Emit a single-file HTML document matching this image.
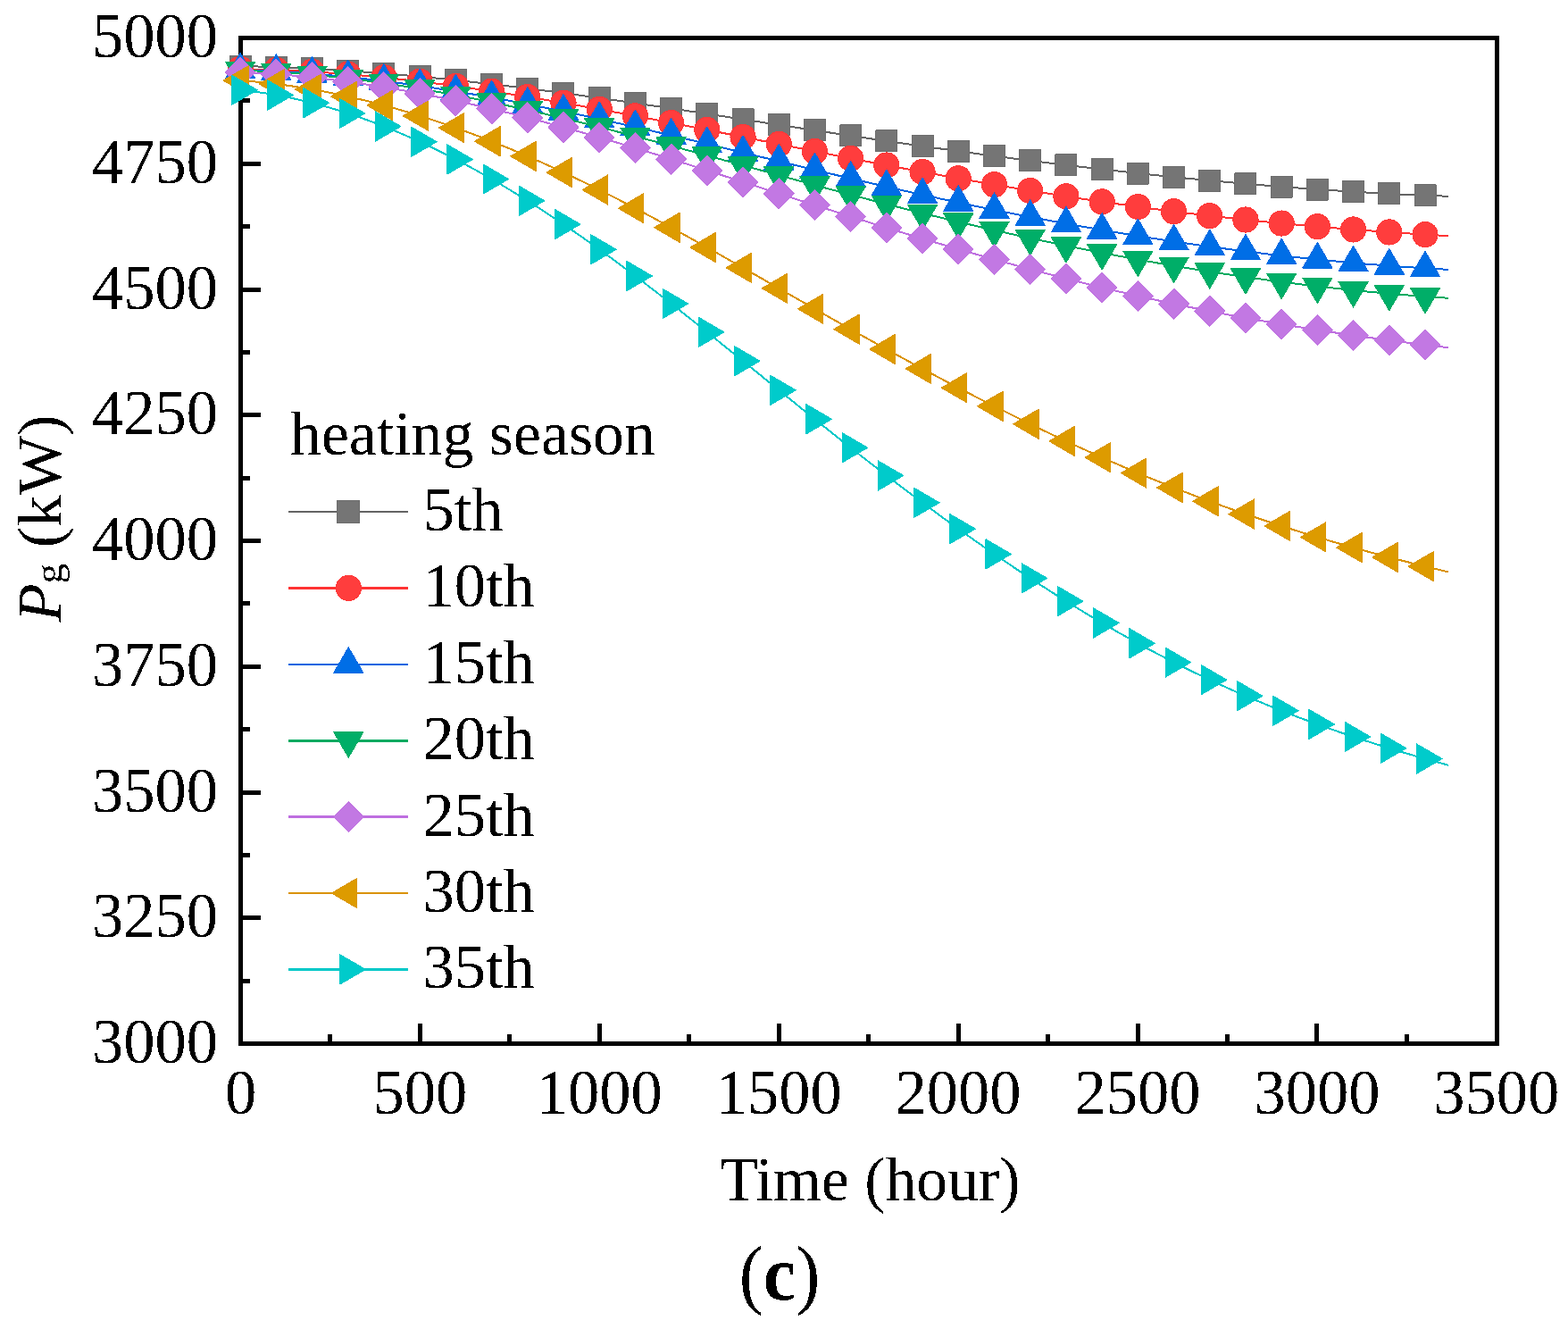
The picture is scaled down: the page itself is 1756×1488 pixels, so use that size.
<!DOCTYPE html>
<html><head><meta charset="utf-8"><title>P_g vs Time</title>
<style>html,body{margin:0;padding:0;background:#fff;overflow:hidden}svg{display:block}</style>
</head><body>
<svg width="1756" height="1488" viewBox="0 0 1756 1488" font-family="Liberation Serif, Times New Roman, serif" fill="#000">
<defs><filter id="bw" filterUnits="userSpaceOnUse" x="0" y="0" width="1756" height="1488" color-interpolation-filters="sRGB"><feComponentTransfer><feFuncA type="discrete" tableValues="0 1"/></feComponentTransfer></filter></defs>
<rect width="1756" height="1488" fill="#fff"/>
<g shape-rendering="crispEdges"><rect x="269.50" y="42.50" width="1406.60" height="1126.00" fill="none" stroke="#000" stroke-width="5"/><line x1="369.95" y1="1168.50" x2="369.95" y2="1158.00" stroke="#000" stroke-width="5"/><line x1="470.40" y1="1168.50" x2="470.40" y2="1146.20" stroke="#000" stroke-width="5"/><line x1="570.85" y1="1168.50" x2="570.85" y2="1158.00" stroke="#000" stroke-width="5"/><line x1="671.30" y1="1168.50" x2="671.30" y2="1146.20" stroke="#000" stroke-width="5"/><line x1="771.75" y1="1168.50" x2="771.75" y2="1158.00" stroke="#000" stroke-width="5"/><line x1="872.20" y1="1168.50" x2="872.20" y2="1146.20" stroke="#000" stroke-width="5"/><line x1="972.65" y1="1168.50" x2="972.65" y2="1158.00" stroke="#000" stroke-width="5"/><line x1="1073.10" y1="1168.50" x2="1073.10" y2="1146.20" stroke="#000" stroke-width="5"/><line x1="1173.55" y1="1168.50" x2="1173.55" y2="1158.00" stroke="#000" stroke-width="5"/><line x1="1274.00" y1="1168.50" x2="1274.00" y2="1146.20" stroke="#000" stroke-width="5"/><line x1="1374.45" y1="1168.50" x2="1374.45" y2="1158.00" stroke="#000" stroke-width="5"/><line x1="1474.90" y1="1168.50" x2="1474.90" y2="1146.20" stroke="#000" stroke-width="5"/><line x1="1575.35" y1="1168.50" x2="1575.35" y2="1158.00" stroke="#000" stroke-width="5"/><line x1="269.50" y1="1098.12" x2="280.00" y2="1098.12" stroke="#000" stroke-width="5"/><line x1="269.50" y1="1027.75" x2="291.80" y2="1027.75" stroke="#000" stroke-width="5"/><line x1="269.50" y1="957.37" x2="280.00" y2="957.37" stroke="#000" stroke-width="5"/><line x1="269.50" y1="887.00" x2="291.80" y2="887.00" stroke="#000" stroke-width="5"/><line x1="269.50" y1="816.62" x2="280.00" y2="816.62" stroke="#000" stroke-width="5"/><line x1="269.50" y1="746.25" x2="291.80" y2="746.25" stroke="#000" stroke-width="5"/><line x1="269.50" y1="675.87" x2="280.00" y2="675.87" stroke="#000" stroke-width="5"/><line x1="269.50" y1="605.50" x2="291.80" y2="605.50" stroke="#000" stroke-width="5"/><line x1="269.50" y1="535.12" x2="280.00" y2="535.12" stroke="#000" stroke-width="5"/><line x1="269.50" y1="464.75" x2="291.80" y2="464.75" stroke="#000" stroke-width="5"/><line x1="269.50" y1="394.37" x2="280.00" y2="394.37" stroke="#000" stroke-width="5"/><line x1="269.50" y1="324.00" x2="291.80" y2="324.00" stroke="#000" stroke-width="5"/><line x1="269.50" y1="253.62" x2="280.00" y2="253.62" stroke="#000" stroke-width="5"/><line x1="269.50" y1="183.25" x2="291.80" y2="183.25" stroke="#000" stroke-width="5"/><line x1="269.50" y1="112.88" x2="280.00" y2="112.88" stroke="#000" stroke-width="5"/></g>
<g shape-rendering="crispEdges"><polyline points="269.10,74.07 277.10,74.23 285.11,74.42 293.11,74.64 301.12,74.88 309.12,75.15 317.12,75.45 325.13,75.78 333.13,76.13 341.14,76.51 349.14,76.91 357.14,77.33 365.15,77.78 373.15,78.26 381.16,78.76 389.16,79.28 397.16,79.82 405.17,80.39 413.17,80.98 421.17,81.59 429.18,82.23 437.18,82.88 445.19,83.56 453.19,84.25 461.19,84.97 469.20,85.71 477.20,86.46 485.21,87.24 493.21,88.03 501.21,88.84 509.22,89.67 517.22,90.52 525.23,91.38 533.23,92.26 541.23,93.16 549.24,94.07 557.24,95.00 565.25,95.95 573.25,96.91 581.25,97.88 589.26,98.87 597.26,99.87 605.27,100.89 613.27,101.92 621.27,102.96 629.28,104.02 637.28,105.08 645.28,106.16 653.29,107.25 661.29,108.36 669.30,109.47 677.30,110.59 685.30,111.72 693.31,112.86 701.31,114.01 709.32,115.17 717.32,116.33 725.32,117.50 733.33,118.68 741.33,119.87 749.34,121.06 757.34,122.25 765.34,123.46 773.35,124.66 781.35,125.87 789.36,127.09 797.36,128.31 805.36,129.53 813.37,130.75 821.37,131.98 829.38,133.20 837.38,134.43 845.38,135.66 853.39,136.89 861.39,138.12 869.39,139.35 877.40,140.58 885.40,141.80 893.41,143.03 901.41,144.25 909.41,145.47 917.42,146.68 925.42,147.89 933.43,149.10 941.43,150.30 949.43,151.50 957.44,152.69 965.44,153.88 973.45,155.06 981.45,156.24 989.45,157.40 997.46,158.57 1005.46,159.72 1013.47,160.87 1021.47,162.02 1029.47,163.15 1037.48,164.28 1045.48,165.40 1053.49,166.52 1061.49,167.63 1069.49,168.73 1077.50,169.82 1085.50,170.91 1093.50,171.99 1101.51,173.06 1109.51,174.12 1117.52,175.17 1125.52,176.22 1133.52,177.26 1141.53,178.28 1149.53,179.30 1157.54,180.32 1165.54,181.32 1173.54,182.31 1181.55,183.30 1189.55,184.27 1197.56,185.24 1205.56,186.20 1213.56,187.14 1221.57,188.08 1229.57,189.01 1237.58,189.92 1245.58,190.83 1253.58,191.73 1261.59,192.61 1269.59,193.49 1277.60,194.36 1285.60,195.21 1293.60,196.06 1301.61,196.89 1309.61,197.71 1317.62,198.52 1325.62,199.32 1333.62,200.11 1341.63,200.88 1349.63,201.65 1357.63,202.40 1365.64,203.14 1373.64,203.87 1381.65,204.59 1389.65,205.29 1397.65,205.98 1405.66,206.66 1413.66,207.33 1421.67,207.98 1429.67,208.62 1437.67,209.25 1445.68,209.86 1453.68,210.46 1461.69,211.05 1469.69,211.62 1477.69,212.18 1485.70,212.72 1493.70,213.26 1501.71,213.77 1509.71,214.28 1517.71,214.77 1525.72,215.24 1533.72,215.70 1541.73,216.15 1549.73,216.58 1557.73,216.99 1565.74,217.39 1573.74,217.78 1581.74,218.15 1589.75,218.50 1597.75,218.84 1605.76,219.16 1613.76,219.47 1621.76,219.76" fill="none" stroke="#646464" stroke-width="2.0" stroke-linejoin="round"/><rect x="257.10" y="62.07" width="24.00" height="24.00" fill="#757575" stroke="#6C6C6C" stroke-width="1" stroke-linejoin="round"/><rect x="297.31" y="63.16" width="24.00" height="24.00" fill="#757575" stroke="#6C6C6C" stroke-width="1" stroke-linejoin="round"/><rect x="337.52" y="64.93" width="24.00" height="24.00" fill="#757575" stroke="#6C6C6C" stroke-width="1" stroke-linejoin="round"/><rect x="377.73" y="67.32" width="24.00" height="24.00" fill="#757575" stroke="#6C6C6C" stroke-width="1" stroke-linejoin="round"/><rect x="417.94" y="70.29" width="24.00" height="24.00" fill="#757575" stroke="#6C6C6C" stroke-width="1" stroke-linejoin="round"/><rect x="458.15" y="73.80" width="24.00" height="24.00" fill="#757575" stroke="#6C6C6C" stroke-width="1" stroke-linejoin="round"/><rect x="498.36" y="77.79" width="24.00" height="24.00" fill="#757575" stroke="#6C6C6C" stroke-width="1" stroke-linejoin="round"/><rect x="538.57" y="82.23" width="24.00" height="24.00" fill="#757575" stroke="#6C6C6C" stroke-width="1" stroke-linejoin="round"/><rect x="578.78" y="87.06" width="24.00" height="24.00" fill="#757575" stroke="#6C6C6C" stroke-width="1" stroke-linejoin="round"/><rect x="618.99" y="92.24" width="24.00" height="24.00" fill="#757575" stroke="#6C6C6C" stroke-width="1" stroke-linejoin="round"/><rect x="659.20" y="97.73" width="24.00" height="24.00" fill="#757575" stroke="#6C6C6C" stroke-width="1" stroke-linejoin="round"/><rect x="699.41" y="103.47" width="24.00" height="24.00" fill="#757575" stroke="#6C6C6C" stroke-width="1" stroke-linejoin="round"/><rect x="739.62" y="109.40" width="24.00" height="24.00" fill="#757575" stroke="#6C6C6C" stroke-width="1" stroke-linejoin="round"/><rect x="779.83" y="115.47" width="24.00" height="24.00" fill="#757575" stroke="#6C6C6C" stroke-width="1" stroke-linejoin="round"/><rect x="820.04" y="121.61" width="24.00" height="24.00" fill="#757575" stroke="#6C6C6C" stroke-width="1" stroke-linejoin="round"/><rect x="860.25" y="127.79" width="24.00" height="24.00" fill="#757575" stroke="#6C6C6C" stroke-width="1" stroke-linejoin="round"/><rect x="900.46" y="133.93" width="24.00" height="24.00" fill="#757575" stroke="#6C6C6C" stroke-width="1" stroke-linejoin="round"/><rect x="940.67" y="139.98" width="24.00" height="24.00" fill="#757575" stroke="#6C6C6C" stroke-width="1" stroke-linejoin="round"/><rect x="980.88" y="145.90" width="24.00" height="24.00" fill="#757575" stroke="#6C6C6C" stroke-width="1" stroke-linejoin="round"/><rect x="1021.09" y="151.66" width="24.00" height="24.00" fill="#757575" stroke="#6C6C6C" stroke-width="1" stroke-linejoin="round"/><rect x="1061.30" y="157.25" width="24.00" height="24.00" fill="#757575" stroke="#6C6C6C" stroke-width="1" stroke-linejoin="round"/><rect x="1101.51" y="162.65" width="24.00" height="24.00" fill="#757575" stroke="#6C6C6C" stroke-width="1" stroke-linejoin="round"/><rect x="1141.72" y="167.83" width="24.00" height="24.00" fill="#757575" stroke="#6C6C6C" stroke-width="1" stroke-linejoin="round"/><rect x="1181.93" y="172.80" width="24.00" height="24.00" fill="#757575" stroke="#6C6C6C" stroke-width="1" stroke-linejoin="round"/><rect x="1222.14" y="177.53" width="24.00" height="24.00" fill="#757575" stroke="#6C6C6C" stroke-width="1" stroke-linejoin="round"/><rect x="1262.35" y="182.01" width="24.00" height="24.00" fill="#757575" stroke="#6C6C6C" stroke-width="1" stroke-linejoin="round"/><rect x="1302.56" y="186.21" width="24.00" height="24.00" fill="#757575" stroke="#6C6C6C" stroke-width="1" stroke-linejoin="round"/><rect x="1342.77" y="190.13" width="24.00" height="24.00" fill="#757575" stroke="#6C6C6C" stroke-width="1" stroke-linejoin="round"/><rect x="1382.98" y="193.75" width="24.00" height="24.00" fill="#757575" stroke="#6C6C6C" stroke-width="1" stroke-linejoin="round"/><rect x="1423.19" y="197.05" width="24.00" height="24.00" fill="#757575" stroke="#6C6C6C" stroke-width="1" stroke-linejoin="round"/><rect x="1463.40" y="200.02" width="24.00" height="24.00" fill="#757575" stroke="#6C6C6C" stroke-width="1" stroke-linejoin="round"/><rect x="1503.61" y="202.64" width="24.00" height="24.00" fill="#757575" stroke="#6C6C6C" stroke-width="1" stroke-linejoin="round"/><rect x="1543.82" y="204.89" width="24.00" height="24.00" fill="#757575" stroke="#6C6C6C" stroke-width="1" stroke-linejoin="round"/><rect x="1584.03" y="206.77" width="24.00" height="24.00" fill="#757575" stroke="#6C6C6C" stroke-width="1" stroke-linejoin="round"/><polyline points="269.10,77.27 277.10,77.39 285.11,77.55 293.11,77.76 301.12,78.00 309.12,78.28 317.12,78.60 325.13,78.96 333.13,79.35 341.14,79.79 349.14,80.25 357.14,80.76 365.15,81.29 373.15,81.87 381.16,82.47 389.16,83.11 397.16,83.78 405.17,84.49 413.17,85.22 421.17,85.99 429.18,86.79 437.18,87.61 445.19,88.47 453.19,89.35 461.19,90.27 469.20,91.21 477.20,92.17 485.21,93.17 493.21,94.19 501.21,95.23 509.22,96.30 517.22,97.39 525.23,98.51 533.23,99.65 541.23,100.81 549.24,102.00 557.24,103.20 565.25,104.43 573.25,105.68 581.25,106.94 589.26,108.23 597.26,109.53 605.27,110.86 613.27,112.20 621.27,113.55 629.28,114.92 637.28,116.31 645.28,117.72 653.29,119.13 661.29,120.57 669.30,122.01 677.30,123.47 685.30,124.94 693.31,126.42 701.31,127.92 709.32,129.42 717.32,130.93 725.32,132.46 733.33,133.99 741.33,135.53 749.34,137.08 757.34,138.63 765.34,140.20 773.35,141.76 781.35,143.34 789.36,144.92 797.36,146.50 805.36,148.09 813.37,149.68 821.37,151.27 829.38,152.87 837.38,154.46 845.38,156.06 853.39,157.66 861.39,159.26 869.39,160.85 877.40,162.45 885.40,164.04 893.41,165.64 901.41,167.23 909.41,168.81 917.42,170.39 925.42,171.97 933.43,173.54 941.43,175.11 949.43,176.67 957.44,178.22 965.44,179.76 973.45,181.30 981.45,182.83 989.45,184.35 997.46,185.87 1005.46,187.37 1013.47,188.87 1021.47,190.36 1029.47,191.83 1037.48,193.30 1045.48,194.76 1053.49,196.21 1061.49,197.65 1069.49,199.09 1077.50,200.50 1085.50,201.91 1093.50,203.31 1101.51,204.70 1109.51,206.08 1117.52,207.44 1125.52,208.79 1133.52,210.13 1141.53,211.46 1149.53,212.78 1157.54,214.08 1165.54,215.37 1173.54,216.65 1181.55,217.92 1189.55,219.17 1197.56,220.41 1205.56,221.63 1213.56,222.84 1221.57,224.03 1229.57,225.21 1237.58,226.38 1245.58,227.53 1253.58,228.66 1261.59,229.78 1269.59,230.89 1277.60,231.98 1285.60,233.05 1293.60,234.10 1301.61,235.14 1309.61,236.16 1317.62,237.17 1325.62,238.16 1333.62,239.13 1341.63,240.08 1349.63,241.02 1357.63,241.94 1365.64,242.85 1373.64,243.73 1381.65,244.61 1389.65,245.46 1397.65,246.30 1405.66,247.13 1413.66,247.94 1421.67,248.73 1429.67,249.51 1437.67,250.28 1445.68,251.03 1453.68,251.77 1461.69,252.49 1469.69,253.20 1477.69,253.89 1485.70,254.57 1493.70,255.23 1501.71,255.89 1509.71,256.52 1517.71,257.15 1525.72,257.76 1533.72,258.36 1541.73,258.95 1549.73,259.52 1557.73,260.09 1565.74,260.63 1573.74,261.17 1581.74,261.70 1589.75,262.21 1597.75,262.71 1605.76,263.20 1613.76,263.68 1621.76,264.15" fill="none" stroke="#FF3333" stroke-width="2.0" stroke-linejoin="round"/><circle cx="269.10" cy="77.27" r="14.10" fill="#FF3D3D" stroke="#FF3838" stroke-width="1" stroke-linejoin="round"/><circle cx="309.31" cy="78.29" r="14.10" fill="#FF3D3D" stroke="#FF3838" stroke-width="1" stroke-linejoin="round"/><circle cx="349.52" cy="80.28" r="14.10" fill="#FF3D3D" stroke="#FF3838" stroke-width="1" stroke-linejoin="round"/><circle cx="389.73" cy="83.16" r="14.10" fill="#FF3D3D" stroke="#FF3838" stroke-width="1" stroke-linejoin="round"/><circle cx="429.94" cy="86.86" r="14.10" fill="#FF3D3D" stroke="#FF3838" stroke-width="1" stroke-linejoin="round"/><circle cx="470.15" cy="91.32" r="14.10" fill="#FF3D3D" stroke="#FF3838" stroke-width="1" stroke-linejoin="round"/><circle cx="510.36" cy="96.45" r="14.10" fill="#FF3D3D" stroke="#FF3838" stroke-width="1" stroke-linejoin="round"/><circle cx="550.57" cy="102.20" r="14.10" fill="#FF3D3D" stroke="#FF3838" stroke-width="1" stroke-linejoin="round"/><circle cx="590.78" cy="108.48" r="14.10" fill="#FF3D3D" stroke="#FF3838" stroke-width="1" stroke-linejoin="round"/><circle cx="630.99" cy="115.22" r="14.10" fill="#FF3D3D" stroke="#FF3838" stroke-width="1" stroke-linejoin="round"/><circle cx="671.20" cy="122.36" r="14.10" fill="#FF3D3D" stroke="#FF3838" stroke-width="1" stroke-linejoin="round"/><circle cx="711.41" cy="129.81" r="14.10" fill="#FF3D3D" stroke="#FF3838" stroke-width="1" stroke-linejoin="round"/><circle cx="751.62" cy="137.52" r="14.10" fill="#FF3D3D" stroke="#FF3838" stroke-width="1" stroke-linejoin="round"/><circle cx="791.83" cy="145.41" r="14.10" fill="#FF3D3D" stroke="#FF3838" stroke-width="1" stroke-linejoin="round"/><circle cx="832.04" cy="153.40" r="14.10" fill="#FF3D3D" stroke="#FF3838" stroke-width="1" stroke-linejoin="round"/><circle cx="872.25" cy="161.42" r="14.10" fill="#FF3D3D" stroke="#FF3838" stroke-width="1" stroke-linejoin="round"/><circle cx="912.46" cy="169.41" r="14.10" fill="#FF3D3D" stroke="#FF3838" stroke-width="1" stroke-linejoin="round"/><circle cx="952.67" cy="177.29" r="14.10" fill="#FF3D3D" stroke="#FF3838" stroke-width="1" stroke-linejoin="round"/><circle cx="992.88" cy="185.00" r="14.10" fill="#FF3D3D" stroke="#FF3838" stroke-width="1" stroke-linejoin="round"/><circle cx="1033.09" cy="192.50" r="14.10" fill="#FF3D3D" stroke="#FF3838" stroke-width="1" stroke-linejoin="round"/><circle cx="1073.30" cy="199.76" r="14.10" fill="#FF3D3D" stroke="#FF3838" stroke-width="1" stroke-linejoin="round"/><circle cx="1113.51" cy="206.76" r="14.10" fill="#FF3D3D" stroke="#FF3838" stroke-width="1" stroke-linejoin="round"/><circle cx="1153.72" cy="213.46" r="14.10" fill="#FF3D3D" stroke="#FF3838" stroke-width="1" stroke-linejoin="round"/><circle cx="1193.93" cy="219.85" r="14.10" fill="#FF3D3D" stroke="#FF3838" stroke-width="1" stroke-linejoin="round"/><circle cx="1234.14" cy="225.88" r="14.10" fill="#FF3D3D" stroke="#FF3838" stroke-width="1" stroke-linejoin="round"/><circle cx="1274.35" cy="231.54" r="14.10" fill="#FF3D3D" stroke="#FF3838" stroke-width="1" stroke-linejoin="round"/><circle cx="1314.56" cy="236.79" r="14.10" fill="#FF3D3D" stroke="#FF3838" stroke-width="1" stroke-linejoin="round"/><circle cx="1354.77" cy="241.61" r="14.10" fill="#FF3D3D" stroke="#FF3838" stroke-width="1" stroke-linejoin="round"/><circle cx="1394.98" cy="246.02" r="14.10" fill="#FF3D3D" stroke="#FF3838" stroke-width="1" stroke-linejoin="round"/><circle cx="1435.19" cy="250.04" r="14.10" fill="#FF3D3D" stroke="#FF3838" stroke-width="1" stroke-linejoin="round"/><circle cx="1475.40" cy="253.69" r="14.10" fill="#FF3D3D" stroke="#FF3838" stroke-width="1" stroke-linejoin="round"/><circle cx="1515.61" cy="256.99" r="14.10" fill="#FF3D3D" stroke="#FF3838" stroke-width="1" stroke-linejoin="round"/><circle cx="1555.82" cy="259.95" r="14.10" fill="#FF3D3D" stroke="#FF3838" stroke-width="1" stroke-linejoin="round"/><circle cx="1596.03" cy="262.61" r="14.10" fill="#FF3D3D" stroke="#FF3838" stroke-width="1" stroke-linejoin="round"/><polyline points="269.10,78.26 277.10,78.50 285.11,78.79 293.11,79.12 301.12,79.49 309.12,79.90 317.12,80.36 325.13,80.85 333.13,81.39 341.14,81.96 349.14,82.57 357.14,83.22 365.15,83.91 373.15,84.64 381.16,85.40 389.16,86.20 397.16,87.03 405.17,87.90 413.17,88.81 421.17,89.74 429.18,90.71 437.18,91.72 445.19,92.76 453.19,93.82 461.19,94.92 469.20,96.05 477.20,97.22 485.21,98.41 493.21,99.63 501.21,100.88 509.22,102.15 517.22,103.46 525.23,104.79 533.23,106.15 541.23,107.54 549.24,108.95 557.24,110.39 565.25,111.85 573.25,113.33 581.25,114.84 589.26,116.37 597.26,117.93 605.27,119.50 613.27,121.10 621.27,122.72 629.28,124.36 637.28,126.02 645.28,127.70 653.29,129.40 661.29,131.11 669.30,132.85 677.30,134.60 685.30,136.37 693.31,138.15 701.31,139.95 709.32,141.76 717.32,143.59 725.32,145.43 733.33,147.28 741.33,149.15 749.34,151.02 757.34,152.90 765.34,154.80 773.35,156.70 781.35,158.60 789.36,160.52 797.36,162.44 805.36,164.37 813.37,166.30 821.37,168.23 829.38,170.17 837.38,172.11 845.38,174.05 853.39,175.99 861.39,177.93 869.39,179.87 877.40,181.81 885.40,183.75 893.41,185.68 901.41,187.61 909.41,189.53 917.42,191.45 925.42,193.37 933.43,195.27 941.43,197.17 949.43,199.06 957.44,200.94 965.44,202.81 973.45,204.67 981.45,206.52 989.45,208.35 997.46,210.17 1005.46,211.98 1013.47,213.78 1021.47,215.56 1029.47,217.33 1037.48,219.08 1045.48,220.82 1053.49,222.55 1061.49,224.26 1069.49,225.96 1077.50,227.64 1085.50,229.31 1093.50,230.96 1101.51,232.60 1109.51,234.22 1117.52,235.83 1125.52,237.42 1133.52,239.00 1141.53,240.56 1149.53,242.11 1157.54,243.64 1165.54,245.15 1173.54,246.65 1181.55,248.14 1189.55,249.60 1197.56,251.05 1205.56,252.49 1213.56,253.91 1221.57,255.31 1229.57,256.69 1237.58,258.06 1245.58,259.41 1253.58,260.75 1261.59,262.07 1269.59,263.37 1277.60,264.65 1285.60,265.91 1293.60,267.16 1301.61,268.39 1309.61,269.61 1317.62,270.80 1325.62,271.98 1333.62,273.13 1341.63,274.27 1349.63,275.40 1357.63,276.50 1365.64,277.58 1373.64,278.65 1381.65,279.70 1389.65,280.73 1397.65,281.73 1405.66,282.72 1413.66,283.69 1421.67,284.65 1429.67,285.58 1437.67,286.49 1445.68,287.38 1453.68,288.26 1461.69,289.11 1469.69,289.94 1477.69,290.75 1485.70,291.55 1493.70,292.32 1501.71,293.07 1509.71,293.80 1517.71,294.51 1525.72,295.20 1533.72,295.87 1541.73,296.51 1549.73,297.14 1557.73,297.74 1565.74,298.33 1573.74,298.89 1581.74,299.43 1589.75,299.95 1597.75,300.44 1605.76,300.92 1613.76,301.37 1621.76,301.80" fill="none" stroke="#0064E0" stroke-width="2.0" stroke-linejoin="round"/><path d="M269.10,59.19L285.75,87.79L252.45,87.79Z" fill="#006EE6" stroke="#0069E3" stroke-width="1" stroke-linejoin="round"/><path d="M309.31,60.85L325.96,89.45L292.66,89.45Z" fill="#006EE6" stroke="#0069E3" stroke-width="1" stroke-linejoin="round"/><path d="M349.52,63.54L366.17,92.14L332.87,92.14Z" fill="#006EE6" stroke="#0069E3" stroke-width="1" stroke-linejoin="round"/><path d="M389.73,67.19L406.38,95.79L373.08,95.79Z" fill="#006EE6" stroke="#0069E3" stroke-width="1" stroke-linejoin="round"/><path d="M429.94,71.74L446.59,100.34L413.29,100.34Z" fill="#006EE6" stroke="#0069E3" stroke-width="1" stroke-linejoin="round"/><path d="M470.15,77.12L486.80,105.72L453.50,105.72Z" fill="#006EE6" stroke="#0069E3" stroke-width="1" stroke-linejoin="round"/><path d="M510.36,83.27L527.01,111.87L493.71,111.87Z" fill="#006EE6" stroke="#0069E3" stroke-width="1" stroke-linejoin="round"/><path d="M550.57,90.12L567.22,118.72L533.92,118.72Z" fill="#006EE6" stroke="#0069E3" stroke-width="1" stroke-linejoin="round"/><path d="M590.78,97.60L607.43,126.20L574.13,126.20Z" fill="#006EE6" stroke="#0069E3" stroke-width="1" stroke-linejoin="round"/><path d="M630.99,105.65L647.64,134.25L614.34,134.25Z" fill="#006EE6" stroke="#0069E3" stroke-width="1" stroke-linejoin="round"/><path d="M671.20,114.20L687.85,142.80L654.55,142.80Z" fill="#006EE6" stroke="#0069E3" stroke-width="1" stroke-linejoin="round"/><path d="M711.41,123.17L728.06,151.77L694.76,151.77Z" fill="#006EE6" stroke="#0069E3" stroke-width="1" stroke-linejoin="round"/><path d="M751.62,132.49L768.27,161.09L734.97,161.09Z" fill="#006EE6" stroke="#0069E3" stroke-width="1" stroke-linejoin="round"/><path d="M791.83,142.05L808.48,170.65L775.18,170.65Z" fill="#006EE6" stroke="#0069E3" stroke-width="1" stroke-linejoin="round"/><path d="M832.04,151.75L848.69,180.35L815.39,180.35Z" fill="#006EE6" stroke="#0069E3" stroke-width="1" stroke-linejoin="round"/><path d="M872.25,161.50L888.90,190.10L855.60,190.10Z" fill="#006EE6" stroke="#0069E3" stroke-width="1" stroke-linejoin="round"/><path d="M912.46,171.20L929.11,199.80L895.81,199.80Z" fill="#006EE6" stroke="#0069E3" stroke-width="1" stroke-linejoin="round"/><path d="M952.67,180.75L969.32,209.35L936.02,209.35Z" fill="#006EE6" stroke="#0069E3" stroke-width="1" stroke-linejoin="round"/><path d="M992.88,190.07L1009.53,218.67L976.23,218.67Z" fill="#006EE6" stroke="#0069E3" stroke-width="1" stroke-linejoin="round"/><path d="M1033.09,199.06L1049.74,227.66L1016.44,227.66Z" fill="#006EE6" stroke="#0069E3" stroke-width="1" stroke-linejoin="round"/><path d="M1073.30,207.69L1089.95,236.29L1056.65,236.29Z" fill="#006EE6" stroke="#0069E3" stroke-width="1" stroke-linejoin="round"/><path d="M1113.51,215.96L1130.16,244.56L1096.86,244.56Z" fill="#006EE6" stroke="#0069E3" stroke-width="1" stroke-linejoin="round"/><path d="M1153.72,223.84L1170.37,252.44L1137.07,252.44Z" fill="#006EE6" stroke="#0069E3" stroke-width="1" stroke-linejoin="round"/><path d="M1193.93,231.33L1210.58,259.93L1177.28,259.93Z" fill="#006EE6" stroke="#0069E3" stroke-width="1" stroke-linejoin="round"/><path d="M1234.14,238.41L1250.79,267.01L1217.49,267.01Z" fill="#006EE6" stroke="#0069E3" stroke-width="1" stroke-linejoin="round"/><path d="M1274.35,245.06L1291.00,273.66L1257.70,273.66Z" fill="#006EE6" stroke="#0069E3" stroke-width="1" stroke-linejoin="round"/><path d="M1314.56,251.28L1331.21,279.88L1297.91,279.88Z" fill="#006EE6" stroke="#0069E3" stroke-width="1" stroke-linejoin="round"/><path d="M1354.77,257.04L1371.42,285.64L1338.12,285.64Z" fill="#006EE6" stroke="#0069E3" stroke-width="1" stroke-linejoin="round"/><path d="M1394.98,262.33L1411.63,290.93L1378.33,290.93Z" fill="#006EE6" stroke="#0069E3" stroke-width="1" stroke-linejoin="round"/><path d="M1435.19,267.14L1451.84,295.74L1418.54,295.74Z" fill="#006EE6" stroke="#0069E3" stroke-width="1" stroke-linejoin="round"/><path d="M1475.40,271.46L1492.05,300.06L1458.75,300.06Z" fill="#006EE6" stroke="#0069E3" stroke-width="1" stroke-linejoin="round"/><path d="M1515.61,275.26L1532.26,303.86L1498.96,303.86Z" fill="#006EE6" stroke="#0069E3" stroke-width="1" stroke-linejoin="round"/><path d="M1555.82,278.54L1572.47,307.14L1539.17,307.14Z" fill="#006EE6" stroke="#0069E3" stroke-width="1" stroke-linejoin="round"/><path d="M1596.03,281.27L1612.68,309.87L1579.38,309.87Z" fill="#006EE6" stroke="#0069E3" stroke-width="1" stroke-linejoin="round"/><polyline points="269.10,78.79 277.10,79.05 285.11,79.36 293.11,79.72 301.12,80.13 309.12,80.60 317.12,81.11 325.13,81.67 333.13,82.28 341.14,82.93 349.14,83.63 357.14,84.38 365.15,85.17 373.15,86.01 381.16,86.89 389.16,87.81 397.16,88.78 405.17,89.78 413.17,90.83 421.17,91.92 429.18,93.05 437.18,94.21 445.19,95.42 453.19,96.66 461.19,97.94 469.20,99.26 477.20,100.61 485.21,101.99 493.21,103.41 501.21,104.86 509.22,106.35 517.22,107.87 525.23,109.41 533.23,110.99 541.23,112.60 549.24,114.24 557.24,115.91 565.25,117.60 573.25,119.32 581.25,121.07 589.26,122.85 597.26,124.65 605.27,126.47 613.27,128.32 621.27,130.19 629.28,132.08 637.28,133.99 645.28,135.93 653.29,137.88 661.29,139.86 669.30,141.85 677.30,143.86 685.30,145.89 693.31,147.94 701.31,150.00 709.32,152.08 717.32,154.17 725.32,156.27 733.33,158.39 741.33,160.52 749.34,162.66 757.34,164.80 765.34,166.96 773.35,169.13 781.35,171.30 789.36,173.48 797.36,175.67 805.36,177.86 813.37,180.05 821.37,182.25 829.38,184.45 837.38,186.65 845.38,188.85 853.39,191.05 861.39,193.26 869.39,195.45 877.40,197.65 885.40,199.84 893.41,202.03 901.41,204.22 909.41,206.40 917.42,208.57 925.42,210.73 933.43,212.89 941.43,215.03 949.43,217.17 957.44,219.29 965.44,221.40 973.45,223.50 981.45,225.59 989.45,227.66 997.46,229.72 1005.46,231.76 1013.47,233.79 1021.47,235.80 1029.47,237.79 1037.48,239.77 1045.48,241.73 1053.49,243.68 1061.49,245.61 1069.49,247.52 1077.50,249.42 1085.50,251.30 1093.50,253.16 1101.51,255.01 1109.51,256.84 1117.52,258.65 1125.52,260.45 1133.52,262.23 1141.53,263.99 1149.53,265.73 1157.54,267.46 1165.54,269.17 1173.54,270.86 1181.55,272.53 1189.55,274.18 1197.56,275.82 1205.56,277.44 1213.56,279.04 1221.57,280.62 1229.57,282.18 1237.58,283.72 1245.58,285.25 1253.58,286.76 1261.59,288.24 1269.59,289.71 1277.60,291.16 1285.60,292.59 1293.60,294.00 1301.61,295.39 1309.61,296.76 1317.62,298.11 1325.62,299.44 1333.62,300.75 1341.63,302.05 1349.63,303.32 1357.63,304.57 1365.64,305.80 1373.64,307.01 1381.65,308.20 1389.65,309.36 1397.65,310.51 1405.66,311.64 1413.66,312.74 1421.67,313.83 1429.67,314.89 1437.67,315.93 1445.68,316.95 1453.68,317.95 1461.69,318.93 1469.69,319.89 1477.69,320.82 1485.70,321.73 1493.70,322.62 1501.71,323.49 1509.71,324.33 1517.71,325.15 1525.72,325.95 1533.72,326.73 1541.73,327.48 1549.73,328.21 1557.73,328.92 1565.74,329.61 1573.74,330.27 1581.74,330.91 1589.75,331.52 1597.75,332.12 1605.76,332.68 1613.76,333.23 1621.76,333.75" fill="none" stroke="#00AA60" stroke-width="2.0" stroke-linejoin="round"/><path d="M269.10,97.86L285.75,69.26L252.45,69.26Z" fill="#00AE68" stroke="#00AC64" stroke-width="1" stroke-linejoin="round"/><path d="M309.31,99.68L325.96,71.08L292.66,71.08Z" fill="#00AE68" stroke="#00AC64" stroke-width="1" stroke-linejoin="round"/><path d="M349.52,102.73L366.17,74.13L332.87,74.13Z" fill="#00AE68" stroke="#00AC64" stroke-width="1" stroke-linejoin="round"/><path d="M389.73,106.95L406.38,78.35L373.08,78.35Z" fill="#00AE68" stroke="#00AC64" stroke-width="1" stroke-linejoin="round"/><path d="M429.94,112.22L446.59,83.62L413.29,83.62Z" fill="#00AE68" stroke="#00AC64" stroke-width="1" stroke-linejoin="round"/><path d="M470.15,118.48L486.80,89.88L453.50,89.88Z" fill="#00AE68" stroke="#00AC64" stroke-width="1" stroke-linejoin="round"/><path d="M510.36,125.63L527.01,97.03L493.71,97.03Z" fill="#00AE68" stroke="#00AC64" stroke-width="1" stroke-linejoin="round"/><path d="M550.57,133.58L567.22,104.98L533.92,104.98Z" fill="#00AE68" stroke="#00AC64" stroke-width="1" stroke-linejoin="round"/><path d="M590.78,142.25L607.43,113.65L574.13,113.65Z" fill="#00AE68" stroke="#00AC64" stroke-width="1" stroke-linejoin="round"/><path d="M630.99,151.55L647.64,122.95L614.34,122.95Z" fill="#00AE68" stroke="#00AC64" stroke-width="1" stroke-linejoin="round"/><path d="M671.20,161.40L687.85,132.80L654.55,132.80Z" fill="#00AE68" stroke="#00AC64" stroke-width="1" stroke-linejoin="round"/><path d="M711.41,171.69L728.06,143.09L694.76,143.09Z" fill="#00AE68" stroke="#00AC64" stroke-width="1" stroke-linejoin="round"/><path d="M751.62,182.33L768.27,153.73L734.97,153.73Z" fill="#00AE68" stroke="#00AC64" stroke-width="1" stroke-linejoin="round"/><path d="M791.83,193.22L808.48,164.62L775.18,164.62Z" fill="#00AE68" stroke="#00AC64" stroke-width="1" stroke-linejoin="round"/><path d="M832.04,204.25L848.69,175.65L815.39,175.65Z" fill="#00AE68" stroke="#00AC64" stroke-width="1" stroke-linejoin="round"/><path d="M872.25,215.31L888.90,186.71L855.60,186.71Z" fill="#00AE68" stroke="#00AC64" stroke-width="1" stroke-linejoin="round"/><path d="M912.46,226.29L929.11,197.69L895.81,197.69Z" fill="#00AE68" stroke="#00AC64" stroke-width="1" stroke-linejoin="round"/><path d="M952.67,237.09L969.32,208.49L936.02,208.49Z" fill="#00AE68" stroke="#00AC64" stroke-width="1" stroke-linejoin="round"/><path d="M992.88,247.61L1009.53,219.01L976.23,219.01Z" fill="#00AE68" stroke="#00AC64" stroke-width="1" stroke-linejoin="round"/><path d="M1033.09,257.76L1049.74,229.16L1016.44,229.16Z" fill="#00AE68" stroke="#00AC64" stroke-width="1" stroke-linejoin="round"/><path d="M1073.30,267.50L1089.95,238.90L1056.65,238.90Z" fill="#00AE68" stroke="#00AC64" stroke-width="1" stroke-linejoin="round"/><path d="M1113.51,276.82L1130.16,248.22L1096.86,248.22Z" fill="#00AE68" stroke="#00AC64" stroke-width="1" stroke-linejoin="round"/><path d="M1153.72,285.70L1170.37,257.10L1137.07,257.10Z" fill="#00AE68" stroke="#00AC64" stroke-width="1" stroke-linejoin="round"/><path d="M1193.93,294.15L1210.58,265.55L1177.28,265.55Z" fill="#00AE68" stroke="#00AC64" stroke-width="1" stroke-linejoin="round"/><path d="M1234.14,302.13L1250.79,273.53L1217.49,273.53Z" fill="#00AE68" stroke="#00AC64" stroke-width="1" stroke-linejoin="round"/><path d="M1274.35,309.64L1291.00,281.04L1257.70,281.04Z" fill="#00AE68" stroke="#00AC64" stroke-width="1" stroke-linejoin="round"/><path d="M1314.56,316.66L1331.21,288.06L1297.91,288.06Z" fill="#00AE68" stroke="#00AC64" stroke-width="1" stroke-linejoin="round"/><path d="M1354.77,323.19L1371.42,294.59L1338.12,294.59Z" fill="#00AE68" stroke="#00AC64" stroke-width="1" stroke-linejoin="round"/><path d="M1394.98,329.20L1411.63,300.60L1378.33,300.60Z" fill="#00AE68" stroke="#00AC64" stroke-width="1" stroke-linejoin="round"/><path d="M1435.19,334.68L1451.84,306.08L1418.54,306.08Z" fill="#00AE68" stroke="#00AC64" stroke-width="1" stroke-linejoin="round"/><path d="M1475.40,339.62L1492.05,311.02L1458.75,311.02Z" fill="#00AE68" stroke="#00AC64" stroke-width="1" stroke-linejoin="round"/><path d="M1515.61,344.01L1532.26,315.41L1498.96,315.41Z" fill="#00AE68" stroke="#00AC64" stroke-width="1" stroke-linejoin="round"/><path d="M1555.82,347.82L1572.47,319.22L1539.17,319.22Z" fill="#00AE68" stroke="#00AC64" stroke-width="1" stroke-linejoin="round"/><path d="M1596.03,351.06L1612.68,322.46L1579.38,322.46Z" fill="#00AE68" stroke="#00AC64" stroke-width="1" stroke-linejoin="round"/><polyline points="269.10,80.80 277.10,81.15 285.11,81.55 293.11,82.01 301.12,82.52 309.12,83.08 317.12,83.70 325.13,84.37 333.13,85.09 341.14,85.86 349.14,86.67 357.14,87.54 365.15,88.46 373.15,89.43 381.16,90.44 389.16,91.50 397.16,92.61 405.17,93.76 413.17,94.95 421.17,96.20 429.18,97.48 437.18,98.81 445.19,100.18 453.19,101.59 461.19,103.05 469.20,104.54 477.20,106.08 485.21,107.65 493.21,109.26 501.21,110.91 509.22,112.60 517.22,114.33 525.23,116.09 533.23,117.89 541.23,119.72 549.24,121.58 557.24,123.48 565.25,125.42 573.25,127.38 581.25,129.38 589.26,131.41 597.26,133.47 605.27,135.56 613.27,137.68 621.27,139.83 629.28,142.01 637.28,144.21 645.28,146.44 653.29,148.70 661.29,150.98 669.30,153.28 677.30,155.61 685.30,157.96 693.31,160.33 701.31,162.72 709.32,165.13 717.32,167.56 725.32,170.01 733.33,172.47 741.33,174.94 749.34,177.43 757.34,179.93 765.34,182.45 773.35,184.98 781.35,187.51 789.36,190.06 797.36,192.62 805.36,195.18 813.37,197.75 821.37,200.32 829.38,202.90 837.38,205.48 845.38,208.07 853.39,210.65 861.39,213.24 869.39,215.83 877.40,218.41 885.40,220.99 893.41,223.57 901.41,226.15 909.41,228.72 917.42,231.29 925.42,233.84 933.43,236.39 941.43,238.94 949.43,241.47 957.44,243.99 965.44,246.50 973.45,248.99 981.45,251.48 989.45,253.95 997.46,256.41 1005.46,258.86 1013.47,261.29 1021.47,263.71 1029.47,266.12 1037.48,268.51 1045.48,270.88 1053.49,273.25 1061.49,275.59 1069.49,277.93 1077.50,280.24 1085.50,282.54 1093.50,284.82 1101.51,287.09 1109.51,289.34 1117.52,291.57 1125.52,293.79 1133.52,295.98 1141.53,298.16 1149.53,300.32 1157.54,302.46 1165.54,304.58 1173.54,306.68 1181.55,308.77 1189.55,310.83 1197.56,312.87 1205.56,314.89 1213.56,316.89 1221.57,318.87 1229.57,320.82 1237.58,322.76 1245.58,324.67 1253.58,326.56 1261.59,328.42 1269.59,330.27 1277.60,332.08 1285.60,333.88 1293.60,335.65 1301.61,337.40 1309.61,339.12 1317.62,340.82 1325.62,342.49 1333.62,344.13 1341.63,345.75 1349.63,347.35 1357.63,348.92 1365.64,350.47 1373.64,352.00 1381.65,353.50 1389.65,354.98 1397.65,356.44 1405.66,357.87 1413.66,359.28 1421.67,360.68 1429.67,362.04 1437.67,363.39 1445.68,364.72 1453.68,366.02 1461.69,367.31 1469.69,368.57 1477.69,369.82 1485.70,371.05 1493.70,372.25 1501.71,373.44 1509.71,374.61 1517.71,375.76 1525.72,376.89 1533.72,378.00 1541.73,379.10 1549.73,380.18 1557.73,381.24 1565.74,382.29 1573.74,383.32 1581.74,384.33 1589.75,385.33 1597.75,386.31 1605.76,387.28 1613.76,388.23 1621.76,389.16" fill="none" stroke="#BE6EE0" stroke-width="2.0" stroke-linejoin="round"/><path d="M269.10,63.90L286.00,80.80L269.10,97.70L252.20,80.80Z" fill="#C278E3" stroke="#C073E1" stroke-width="1" stroke-linejoin="round"/><path d="M309.31,66.20L326.21,83.10L309.31,100.00L292.41,83.10Z" fill="#C278E3" stroke="#C073E1" stroke-width="1" stroke-linejoin="round"/><path d="M349.52,69.81L366.42,86.71L349.52,103.61L332.62,86.71Z" fill="#C278E3" stroke="#C073E1" stroke-width="1" stroke-linejoin="round"/><path d="M389.73,74.68L406.63,91.58L389.73,108.48L372.83,91.58Z" fill="#C278E3" stroke="#C073E1" stroke-width="1" stroke-linejoin="round"/><path d="M429.94,80.71L446.84,97.61L429.94,114.51L413.04,97.61Z" fill="#C278E3" stroke="#C073E1" stroke-width="1" stroke-linejoin="round"/><path d="M470.15,87.82L487.05,104.72L470.15,121.62L453.25,104.72Z" fill="#C278E3" stroke="#C073E1" stroke-width="1" stroke-linejoin="round"/><path d="M510.36,95.95L527.26,112.85L510.36,129.75L493.46,112.85Z" fill="#C278E3" stroke="#C073E1" stroke-width="1" stroke-linejoin="round"/><path d="M550.57,105.00L567.47,121.90L550.57,138.80L533.67,121.90Z" fill="#C278E3" stroke="#C073E1" stroke-width="1" stroke-linejoin="round"/><path d="M590.78,114.90L607.68,131.80L590.78,148.70L573.88,131.80Z" fill="#C278E3" stroke="#C073E1" stroke-width="1" stroke-linejoin="round"/><path d="M630.99,125.58L647.89,142.48L630.99,159.38L614.09,142.48Z" fill="#C278E3" stroke="#C073E1" stroke-width="1" stroke-linejoin="round"/><path d="M671.20,136.94L688.10,153.84L671.20,170.74L654.30,153.84Z" fill="#C278E3" stroke="#C073E1" stroke-width="1" stroke-linejoin="round"/><path d="M711.41,148.87L728.31,165.77L711.41,182.67L694.51,165.77Z" fill="#C278E3" stroke="#C073E1" stroke-width="1" stroke-linejoin="round"/><path d="M751.62,161.24L768.52,178.14L751.62,195.04L734.72,178.14Z" fill="#C278E3" stroke="#C073E1" stroke-width="1" stroke-linejoin="round"/><path d="M791.83,173.95L808.73,190.85L791.83,207.75L774.93,190.85Z" fill="#C278E3" stroke="#C073E1" stroke-width="1" stroke-linejoin="round"/><path d="M832.04,186.86L848.94,203.76L832.04,220.66L815.14,203.76Z" fill="#C278E3" stroke="#C073E1" stroke-width="1" stroke-linejoin="round"/><path d="M872.25,199.85L889.15,216.75L872.25,233.65L855.35,216.75Z" fill="#C278E3" stroke="#C073E1" stroke-width="1" stroke-linejoin="round"/><path d="M912.46,212.80L929.36,229.70L912.46,246.60L895.56,229.70Z" fill="#C278E3" stroke="#C073E1" stroke-width="1" stroke-linejoin="round"/><path d="M952.67,225.59L969.57,242.49L952.67,259.39L935.77,242.49Z" fill="#C278E3" stroke="#C073E1" stroke-width="1" stroke-linejoin="round"/><path d="M992.88,238.10L1009.78,255.00L992.88,271.90L975.98,255.00Z" fill="#C278E3" stroke="#C073E1" stroke-width="1" stroke-linejoin="round"/><path d="M1033.09,250.30L1049.99,267.20L1033.09,284.10L1016.19,267.20Z" fill="#C278E3" stroke="#C073E1" stroke-width="1" stroke-linejoin="round"/><path d="M1073.30,262.13L1090.20,279.03L1073.30,295.93L1056.40,279.03Z" fill="#C278E3" stroke="#C073E1" stroke-width="1" stroke-linejoin="round"/><path d="M1113.51,273.56L1130.41,290.46L1113.51,307.36L1096.61,290.46Z" fill="#C278E3" stroke="#C073E1" stroke-width="1" stroke-linejoin="round"/><path d="M1153.72,284.54L1170.62,301.44L1153.72,318.34L1136.82,301.44Z" fill="#C278E3" stroke="#C073E1" stroke-width="1" stroke-linejoin="round"/><path d="M1193.93,295.05L1210.83,311.95L1193.93,328.85L1177.03,311.95Z" fill="#C278E3" stroke="#C073E1" stroke-width="1" stroke-linejoin="round"/><path d="M1234.14,305.03L1251.04,321.93L1234.14,338.83L1217.24,321.93Z" fill="#C278E3" stroke="#C073E1" stroke-width="1" stroke-linejoin="round"/><path d="M1274.35,314.45L1291.25,331.35L1274.35,348.25L1257.45,331.35Z" fill="#C278E3" stroke="#C073E1" stroke-width="1" stroke-linejoin="round"/><path d="M1314.56,323.27L1331.46,340.17L1314.56,357.07L1297.66,340.17Z" fill="#C278E3" stroke="#C073E1" stroke-width="1" stroke-linejoin="round"/><path d="M1354.77,331.46L1371.67,348.36L1354.77,365.26L1337.87,348.36Z" fill="#C278E3" stroke="#C073E1" stroke-width="1" stroke-linejoin="round"/><path d="M1394.98,339.05L1411.88,355.95L1394.98,372.85L1378.08,355.95Z" fill="#C278E3" stroke="#C073E1" stroke-width="1" stroke-linejoin="round"/><path d="M1435.19,346.08L1452.09,362.98L1435.19,379.88L1418.29,362.98Z" fill="#C278E3" stroke="#C073E1" stroke-width="1" stroke-linejoin="round"/><path d="M1475.40,352.56L1492.30,369.46L1475.40,386.36L1458.50,369.46Z" fill="#C278E3" stroke="#C073E1" stroke-width="1" stroke-linejoin="round"/><path d="M1515.61,358.56L1532.51,375.46L1515.61,392.36L1498.71,375.46Z" fill="#C278E3" stroke="#C073E1" stroke-width="1" stroke-linejoin="round"/><path d="M1555.82,364.09L1572.72,380.99L1555.82,397.89L1538.92,380.99Z" fill="#C278E3" stroke="#C073E1" stroke-width="1" stroke-linejoin="round"/><path d="M1596.03,369.20L1612.93,386.10L1596.03,403.00L1579.13,386.10Z" fill="#C278E3" stroke="#C073E1" stroke-width="1" stroke-linejoin="round"/><polyline points="269.10,90.09 277.10,90.70 285.11,91.40 293.11,92.19 301.12,93.06 309.12,94.01 317.12,95.04 325.13,96.16 333.13,97.35 341.14,98.63 349.14,99.99 357.14,101.42 365.15,102.93 373.15,104.52 381.16,106.19 389.16,107.93 397.16,109.75 405.17,111.65 413.17,113.61 421.17,115.66 429.18,117.77 437.18,119.95 445.19,122.21 453.19,124.54 461.19,126.94 469.20,129.40 477.20,131.94 485.21,134.54 493.21,137.21 501.21,139.95 509.22,142.76 517.22,145.62 525.23,148.56 533.23,151.55 541.23,154.61 549.24,157.74 557.24,160.92 565.25,164.17 573.25,167.47 581.25,170.84 589.26,174.27 597.26,177.75 605.27,181.29 613.27,184.89 621.27,188.54 629.28,192.25 637.28,196.02 645.28,199.84 653.29,203.71 661.29,207.63 669.30,211.60 677.30,215.61 685.30,219.67 693.31,223.77 701.31,227.92 709.32,232.10 717.32,236.32 725.32,240.57 733.33,244.86 741.33,249.18 749.34,253.53 757.34,257.91 765.34,262.32 773.35,266.75 781.35,271.20 789.36,275.67 797.36,280.17 805.36,284.68 813.37,289.20 821.37,293.74 829.38,298.30 837.38,302.86 845.38,307.43 853.39,312.01 861.39,316.59 869.39,321.18 877.40,325.76 885.40,330.35 893.41,334.93 901.41,339.51 909.41,344.09 917.42,348.65 925.42,353.21 933.43,357.76 941.43,362.29 949.43,366.81 957.44,371.31 965.44,375.79 973.45,380.26 981.45,384.70 989.45,389.13 997.46,393.54 1005.46,397.92 1013.47,402.29 1021.47,406.63 1029.47,410.95 1037.48,415.25 1045.48,419.53 1053.49,423.78 1061.49,428.01 1069.49,432.21 1077.50,436.39 1085.50,440.54 1093.50,444.66 1101.51,448.76 1109.51,452.83 1117.52,456.87 1125.52,460.89 1133.52,464.87 1141.53,468.83 1149.53,472.75 1157.54,476.64 1165.54,480.50 1173.54,484.33 1181.55,488.13 1189.55,491.89 1197.56,495.62 1205.56,499.32 1213.56,502.98 1221.57,506.60 1229.57,510.19 1237.58,513.75 1245.58,517.26 1253.58,520.74 1261.59,524.18 1269.59,527.58 1277.60,530.95 1285.60,534.27 1293.60,537.55 1301.61,540.79 1309.61,543.99 1317.62,547.15 1325.62,550.27 1333.62,553.34 1341.63,556.38 1349.63,559.37 1357.63,562.32 1365.64,565.24 1373.64,568.11 1381.65,570.95 1389.65,573.74 1397.65,576.50 1405.66,579.23 1413.66,581.91 1421.67,584.56 1429.67,587.17 1437.67,589.75 1445.68,592.29 1453.68,594.80 1461.69,597.27 1469.69,599.71 1477.69,602.12 1485.70,604.49 1493.70,606.83 1501.71,609.14 1509.71,611.42 1517.71,613.67 1525.72,615.89 1533.72,618.07 1541.73,620.23 1549.73,622.36 1557.73,624.46 1565.74,626.54 1573.74,628.58 1581.74,630.60 1589.75,632.59 1597.75,634.56 1605.76,636.50 1613.76,638.41 1621.76,640.31" fill="none" stroke="#DA9200" stroke-width="2.0" stroke-linejoin="round"/><path d="M250.03,90.09L278.63,73.44L278.63,106.74Z" fill="#DD9B00" stroke="#DB9600" stroke-width="1" stroke-linejoin="round"/><path d="M290.24,94.03L318.84,77.38L318.84,110.68Z" fill="#DD9B00" stroke="#DB9600" stroke-width="1" stroke-linejoin="round"/><path d="M330.45,100.05L359.05,83.40L359.05,116.70Z" fill="#DD9B00" stroke="#DB9600" stroke-width="1" stroke-linejoin="round"/><path d="M370.66,108.06L399.26,91.41L399.26,124.71Z" fill="#DD9B00" stroke="#DB9600" stroke-width="1" stroke-linejoin="round"/><path d="M410.87,117.97L439.47,101.32L439.47,134.62Z" fill="#DD9B00" stroke="#DB9600" stroke-width="1" stroke-linejoin="round"/><path d="M451.08,129.70L479.68,113.05L479.68,146.35Z" fill="#DD9B00" stroke="#DB9600" stroke-width="1" stroke-linejoin="round"/><path d="M491.29,143.16L519.89,126.51L519.89,159.81Z" fill="#DD9B00" stroke="#DB9600" stroke-width="1" stroke-linejoin="round"/><path d="M531.50,158.26L560.10,141.61L560.10,174.91Z" fill="#DD9B00" stroke="#DB9600" stroke-width="1" stroke-linejoin="round"/><path d="M571.71,174.92L600.31,158.27L600.31,191.57Z" fill="#DD9B00" stroke="#DB9600" stroke-width="1" stroke-linejoin="round"/><path d="M611.92,193.06L640.52,176.41L640.52,209.71Z" fill="#DD9B00" stroke="#DB9600" stroke-width="1" stroke-linejoin="round"/><path d="M652.13,212.55L680.73,195.90L680.73,229.20Z" fill="#DD9B00" stroke="#DB9600" stroke-width="1" stroke-linejoin="round"/><path d="M692.34,233.20L720.94,216.55L720.94,249.85Z" fill="#DD9B00" stroke="#DB9600" stroke-width="1" stroke-linejoin="round"/><path d="M732.55,254.78L761.15,238.13L761.15,271.43Z" fill="#DD9B00" stroke="#DB9600" stroke-width="1" stroke-linejoin="round"/><path d="M772.76,277.06L801.36,260.41L801.36,293.71Z" fill="#DD9B00" stroke="#DB9600" stroke-width="1" stroke-linejoin="round"/><path d="M812.97,299.81L841.57,283.16L841.57,316.46Z" fill="#DD9B00" stroke="#DB9600" stroke-width="1" stroke-linejoin="round"/><path d="M853.18,322.81L881.78,306.16L881.78,339.46Z" fill="#DD9B00" stroke="#DB9600" stroke-width="1" stroke-linejoin="round"/><path d="M893.39,345.83L921.99,329.18L921.99,362.48Z" fill="#DD9B00" stroke="#DB9600" stroke-width="1" stroke-linejoin="round"/><path d="M933.60,368.63L962.20,351.98L962.20,385.28Z" fill="#DD9B00" stroke="#DB9600" stroke-width="1" stroke-linejoin="round"/><path d="M973.81,391.02L1002.41,374.37L1002.41,407.67Z" fill="#DD9B00" stroke="#DB9600" stroke-width="1" stroke-linejoin="round"/><path d="M1014.02,412.90L1042.62,396.25L1042.62,429.55Z" fill="#DD9B00" stroke="#DB9600" stroke-width="1" stroke-linejoin="round"/><path d="M1054.23,434.20L1082.83,417.55L1082.83,450.85Z" fill="#DD9B00" stroke="#DB9600" stroke-width="1" stroke-linejoin="round"/><path d="M1094.44,454.85L1123.04,438.20L1123.04,471.50Z" fill="#DD9B00" stroke="#DB9600" stroke-width="1" stroke-linejoin="round"/><path d="M1134.65,474.79L1163.25,458.14L1163.25,491.44Z" fill="#DD9B00" stroke="#DB9600" stroke-width="1" stroke-linejoin="round"/><path d="M1174.86,493.94L1203.46,477.29L1203.46,510.59Z" fill="#DD9B00" stroke="#DB9600" stroke-width="1" stroke-linejoin="round"/><path d="M1215.07,512.23L1243.67,495.58L1243.67,528.88Z" fill="#DD9B00" stroke="#DB9600" stroke-width="1" stroke-linejoin="round"/><path d="M1255.28,529.59L1283.88,512.94L1283.88,546.24Z" fill="#DD9B00" stroke="#DB9600" stroke-width="1" stroke-linejoin="round"/><path d="M1295.49,545.95L1324.09,529.30L1324.09,562.60Z" fill="#DD9B00" stroke="#DB9600" stroke-width="1" stroke-linejoin="round"/><path d="M1335.70,561.27L1364.30,544.62L1364.30,577.92Z" fill="#DD9B00" stroke="#DB9600" stroke-width="1" stroke-linejoin="round"/><path d="M1375.91,575.59L1404.51,558.94L1404.51,592.24Z" fill="#DD9B00" stroke="#DB9600" stroke-width="1" stroke-linejoin="round"/><path d="M1416.12,588.95L1444.72,572.30L1444.72,605.60Z" fill="#DD9B00" stroke="#DB9600" stroke-width="1" stroke-linejoin="round"/><path d="M1456.33,601.43L1484.93,584.78L1484.93,618.08Z" fill="#DD9B00" stroke="#DB9600" stroke-width="1" stroke-linejoin="round"/><path d="M1496.54,613.08L1525.14,596.43L1525.14,629.73Z" fill="#DD9B00" stroke="#DB9600" stroke-width="1" stroke-linejoin="round"/><path d="M1536.75,623.96L1565.35,607.31L1565.35,640.61Z" fill="#DD9B00" stroke="#DB9600" stroke-width="1" stroke-linejoin="round"/><path d="M1576.96,634.14L1605.56,617.49L1605.56,650.79Z" fill="#DD9B00" stroke="#DB9600" stroke-width="1" stroke-linejoin="round"/><polyline points="269.10,100.78 277.10,101.65 285.11,102.65 293.11,103.78 301.12,105.04 309.12,106.42 317.12,107.92 325.13,109.54 333.13,111.29 341.14,113.16 349.14,115.14 357.14,117.24 365.15,119.46 373.15,121.79 381.16,124.24 389.16,126.80 397.16,129.47 405.17,132.25 413.17,135.14 421.17,138.13 429.18,141.24 437.18,144.44 445.19,147.76 453.19,151.17 461.19,154.69 469.20,158.31 477.20,162.03 485.21,165.84 493.21,169.75 501.21,173.76 509.22,177.87 517.22,182.06 525.23,186.35 533.23,190.73 541.23,195.20 549.24,199.76 557.24,204.40 565.25,209.13 573.25,213.95 581.25,218.85 589.26,223.83 597.26,228.90 605.27,234.04 613.27,239.26 621.27,244.57 629.28,249.94 637.28,255.40 645.28,260.92 653.29,266.52 661.29,272.18 669.30,277.91 677.30,283.70 685.30,289.56 693.31,295.46 701.31,301.43 709.32,307.44 717.32,313.50 725.32,319.61 733.33,325.77 741.33,331.96 749.34,338.20 757.34,344.47 765.34,350.77 773.35,357.10 781.35,363.46 789.36,369.85 797.36,376.25 805.36,382.68 813.37,389.13 821.37,395.58 829.38,402.06 837.38,408.54 845.38,415.02 853.39,421.51 861.39,428.00 869.39,434.49 877.40,440.98 885.40,447.46 893.41,453.93 901.41,460.38 909.41,466.83 917.42,473.25 925.42,479.65 933.43,486.04 941.43,492.39 949.43,498.72 957.44,505.02 965.44,511.28 973.45,517.51 981.45,523.71 989.45,529.87 997.46,536.00 1005.46,542.09 1013.47,548.14 1021.47,554.16 1029.47,560.14 1037.48,566.08 1045.48,571.97 1053.49,577.83 1061.49,583.65 1069.49,589.42 1077.50,595.15 1085.50,600.83 1093.50,606.48 1101.51,612.07 1109.51,617.62 1117.52,623.12 1125.52,628.58 1133.52,633.98 1141.53,639.34 1149.53,644.64 1157.54,649.90 1165.54,655.10 1173.54,660.25 1181.55,665.35 1189.55,670.39 1197.56,675.38 1205.56,680.32 1213.56,685.19 1221.57,690.01 1229.57,694.77 1237.58,699.48 1245.58,704.12 1253.58,708.70 1261.59,713.22 1269.59,717.69 1277.60,722.08 1285.60,726.42 1293.60,730.69 1301.61,734.89 1309.61,739.03 1317.62,743.11 1325.62,747.11 1333.62,751.05 1341.63,754.93 1349.63,758.74 1357.63,762.49 1365.64,766.18 1373.64,769.81 1381.65,773.37 1389.65,776.88 1397.65,780.33 1405.66,783.72 1413.66,787.05 1421.67,790.33 1429.67,793.55 1437.67,796.72 1445.68,799.83 1453.68,802.89 1461.69,805.90 1469.69,808.86 1477.69,811.77 1485.70,814.64 1493.70,817.45 1501.71,820.22 1509.71,822.94 1517.71,825.61 1525.72,828.24 1533.72,830.83 1541.73,833.37 1549.73,835.87 1557.73,838.34 1565.74,840.76 1573.74,843.14 1581.74,845.48 1589.75,847.79 1597.75,850.06 1605.76,852.29 1613.76,854.49 1621.76,856.66" fill="none" stroke="#00C8C8" stroke-width="2.0" stroke-linejoin="round"/><path d="M288.17,100.78L259.57,84.13L259.57,117.43Z" fill="#00CBCB" stroke="#00C9C9" stroke-width="1" stroke-linejoin="round"/><path d="M328.38,106.45L299.78,89.80L299.78,123.10Z" fill="#00CBCB" stroke="#00C9C9" stroke-width="1" stroke-linejoin="round"/><path d="M368.59,115.24L339.99,98.59L339.99,131.89Z" fill="#00CBCB" stroke="#00C9C9" stroke-width="1" stroke-linejoin="round"/><path d="M408.80,126.98L380.20,110.33L380.20,143.63Z" fill="#00CBCB" stroke="#00C9C9" stroke-width="1" stroke-linejoin="round"/><path d="M449.01,141.54L420.41,124.89L420.41,158.19Z" fill="#00CBCB" stroke="#00C9C9" stroke-width="1" stroke-linejoin="round"/><path d="M489.22,158.75L460.62,142.10L460.62,175.40Z" fill="#00CBCB" stroke="#00C9C9" stroke-width="1" stroke-linejoin="round"/><path d="M529.43,178.46L500.83,161.81L500.83,195.11Z" fill="#00CBCB" stroke="#00C9C9" stroke-width="1" stroke-linejoin="round"/><path d="M569.64,200.52L541.04,183.87L541.04,217.17Z" fill="#00CBCB" stroke="#00C9C9" stroke-width="1" stroke-linejoin="round"/><path d="M609.85,224.79L581.25,208.14L581.25,241.44Z" fill="#00CBCB" stroke="#00C9C9" stroke-width="1" stroke-linejoin="round"/><path d="M650.06,251.10L621.46,234.45L621.46,267.75Z" fill="#00CBCB" stroke="#00C9C9" stroke-width="1" stroke-linejoin="round"/><path d="M690.27,279.28L661.67,262.63L661.67,295.93Z" fill="#00CBCB" stroke="#00C9C9" stroke-width="1" stroke-linejoin="round"/><path d="M730.48,309.02L701.88,292.37L701.88,325.67Z" fill="#00CBCB" stroke="#00C9C9" stroke-width="1" stroke-linejoin="round"/><path d="M770.69,339.98L742.09,323.33L742.09,356.63Z" fill="#00CBCB" stroke="#00C9C9" stroke-width="1" stroke-linejoin="round"/><path d="M810.90,371.82L782.30,355.17L782.30,388.47Z" fill="#00CBCB" stroke="#00C9C9" stroke-width="1" stroke-linejoin="round"/><path d="M851.11,404.21L822.51,387.56L822.51,420.86Z" fill="#00CBCB" stroke="#00C9C9" stroke-width="1" stroke-linejoin="round"/><path d="M891.32,436.81L862.72,420.16L862.72,453.46Z" fill="#00CBCB" stroke="#00C9C9" stroke-width="1" stroke-linejoin="round"/><path d="M931.53,469.27L902.93,452.62L902.93,485.92Z" fill="#00CBCB" stroke="#00C9C9" stroke-width="1" stroke-linejoin="round"/><path d="M971.74,501.27L943.14,484.62L943.14,517.92Z" fill="#00CBCB" stroke="#00C9C9" stroke-width="1" stroke-linejoin="round"/><path d="M1011.95,532.50L983.35,515.85L983.35,549.15Z" fill="#00CBCB" stroke="#00C9C9" stroke-width="1" stroke-linejoin="round"/><path d="M1052.16,562.83L1023.56,546.18L1023.56,579.48Z" fill="#00CBCB" stroke="#00C9C9" stroke-width="1" stroke-linejoin="round"/><path d="M1092.37,592.15L1063.77,575.50L1063.77,608.80Z" fill="#00CBCB" stroke="#00C9C9" stroke-width="1" stroke-linejoin="round"/><path d="M1132.58,620.37L1103.98,603.72L1103.98,637.02Z" fill="#00CBCB" stroke="#00C9C9" stroke-width="1" stroke-linejoin="round"/><path d="M1172.79,647.40L1144.19,630.75L1144.19,664.05Z" fill="#00CBCB" stroke="#00C9C9" stroke-width="1" stroke-linejoin="round"/><path d="M1213.00,673.13L1184.40,656.48L1184.40,689.78Z" fill="#00CBCB" stroke="#00C9C9" stroke-width="1" stroke-linejoin="round"/><path d="M1253.21,697.46L1224.61,680.81L1224.61,714.11Z" fill="#00CBCB" stroke="#00C9C9" stroke-width="1" stroke-linejoin="round"/><path d="M1293.42,720.31L1264.82,703.66L1264.82,736.96Z" fill="#00CBCB" stroke="#00C9C9" stroke-width="1" stroke-linejoin="round"/><path d="M1333.63,741.56L1305.03,724.91L1305.03,758.21Z" fill="#00CBCB" stroke="#00C9C9" stroke-width="1" stroke-linejoin="round"/><path d="M1373.84,761.16L1345.24,744.51L1345.24,777.81Z" fill="#00CBCB" stroke="#00C9C9" stroke-width="1" stroke-linejoin="round"/><path d="M1414.05,779.18L1385.45,762.53L1385.45,795.83Z" fill="#00CBCB" stroke="#00C9C9" stroke-width="1" stroke-linejoin="round"/><path d="M1454.26,795.74L1425.66,779.09L1425.66,812.39Z" fill="#00CBCB" stroke="#00C9C9" stroke-width="1" stroke-linejoin="round"/><path d="M1494.47,810.95L1465.87,794.30L1465.87,827.60Z" fill="#00CBCB" stroke="#00C9C9" stroke-width="1" stroke-linejoin="round"/><path d="M1534.68,824.91L1506.08,808.26L1506.08,841.56Z" fill="#00CBCB" stroke="#00C9C9" stroke-width="1" stroke-linejoin="round"/><path d="M1574.89,837.75L1546.29,821.10L1546.29,854.40Z" fill="#00CBCB" stroke="#00C9C9" stroke-width="1" stroke-linejoin="round"/><path d="M1615.10,849.57L1586.50,832.92L1586.50,866.22Z" fill="#00CBCB" stroke="#00C9C9" stroke-width="1" stroke-linejoin="round"/></g>
<g shape-rendering="crispEdges" filter="url(#bw)"><text transform="translate(325,509) scale(0.99,1)" x="0" y="0" font-size="70.5">heating season</text><rect x="323" y="572" width="134" height="2" fill="#646464"/><rect x="377.85" y="560.55" width="24.90" height="24.90" fill="#757575" stroke="#6C6C6C" stroke-width="1" stroke-linejoin="round"/><text x="473.5" y="594.00" font-size="70.5">5th</text><rect x="323" y="657" width="134" height="3" fill="#FF3333"/><circle cx="390.30" cy="658.40" r="14.10" fill="#FF3D3D" stroke="#FF3838" stroke-width="1" stroke-linejoin="round"/><text x="473.5" y="679.40" font-size="70.5">10th</text><rect x="323" y="743" width="134" height="2" fill="#0064E0"/><path d="M390.30,724.73L406.95,753.33L373.65,753.33Z" fill="#006EE6" stroke="#0069E3" stroke-width="1" stroke-linejoin="round"/><text x="473.5" y="764.80" font-size="70.5">15th</text><rect x="323" y="828" width="134" height="3" fill="#00AA60"/><path d="M390.30,848.27L406.95,819.67L373.65,819.67Z" fill="#00AE68" stroke="#00AC64" stroke-width="1" stroke-linejoin="round"/><text x="473.5" y="850.20" font-size="70.5">20th</text><rect x="323" y="913" width="134" height="3" fill="#BE6EE0"/><path d="M390.30,897.70L407.20,914.60L390.30,931.50L373.40,914.60Z" fill="#C278E3" stroke="#C073E1" stroke-width="1" stroke-linejoin="round"/><text x="473.5" y="935.60" font-size="70.5">25th</text><rect x="323" y="999" width="134" height="2" fill="#DA9200"/><path d="M371.23,1000.00L399.83,983.35L399.83,1016.65Z" fill="#DD9B00" stroke="#DB9600" stroke-width="1" stroke-linejoin="round"/><text x="473.5" y="1021.00" font-size="70.5">30th</text><rect x="323" y="1084" width="134" height="3" fill="#00C8C8"/><path d="M409.37,1085.40L380.77,1068.75L380.77,1102.05Z" fill="#00CBCB" stroke="#00C9C9" stroke-width="1" stroke-linejoin="round"/><text x="473.5" y="1106.40" font-size="70.5">35th</text></g>
<g filter="url(#bw)"><text transform="translate(244,1190.00) scale(1,1.02)" text-anchor="end" font-size="70.5">3000</text><text transform="translate(244,1049.25) scale(1,1.02)" text-anchor="end" font-size="70.5">3250</text><text transform="translate(244,908.50) scale(1,1.02)" text-anchor="end" font-size="70.5">3500</text><text transform="translate(244,767.75) scale(1,1.02)" text-anchor="end" font-size="70.5">3750</text><text transform="translate(244,627.00) scale(1,1.02)" text-anchor="end" font-size="70.5">4000</text><text transform="translate(244,486.25) scale(1,1.02)" text-anchor="end" font-size="70.5">4250</text><text transform="translate(244,345.50) scale(1,1.02)" text-anchor="end" font-size="70.5">4500</text><text transform="translate(244,204.75) scale(1,1.02)" text-anchor="end" font-size="70.5">4750</text><text transform="translate(244,64.00) scale(1,1.02)" text-anchor="end" font-size="70.5">5000</text><text transform="translate(269.50,1247) scale(1,1.02)" text-anchor="middle" font-size="70.5">0</text><text transform="translate(470.40,1247) scale(1,1.02)" text-anchor="middle" font-size="70.5">500</text><text transform="translate(671.30,1247) scale(1,1.02)" text-anchor="middle" font-size="70.5">1000</text><text transform="translate(872.20,1247) scale(1,1.02)" text-anchor="middle" font-size="70.5">1500</text><text transform="translate(1073.10,1247) scale(1,1.02)" text-anchor="middle" font-size="70.5">2000</text><text transform="translate(1274.00,1247) scale(1,1.02)" text-anchor="middle" font-size="70.5">2500</text><text transform="translate(1474.90,1247) scale(1,1.02)" text-anchor="middle" font-size="70.5">3000</text><text transform="translate(1675.80,1247) scale(1,1.02)" text-anchor="middle" font-size="70.5">3500</text><text transform="translate(974.4,1344) scale(0.988,1)" text-anchor="middle" font-size="70.5">Time (hour)</text><text transform="translate(68,580.5) rotate(-90)" text-anchor="middle" font-size="70.5"><tspan font-style="italic">P</tspan><tspan font-size="45.1" dy="0.5">g</tspan><tspan dy="-0.5"> (kW)</tspan></text><text transform="translate(873,1455) scale(0.95,1)" text-anchor="middle" font-size="86">(<tspan font-weight="bold">c</tspan>)</text></g>
</svg>
</body></html>
